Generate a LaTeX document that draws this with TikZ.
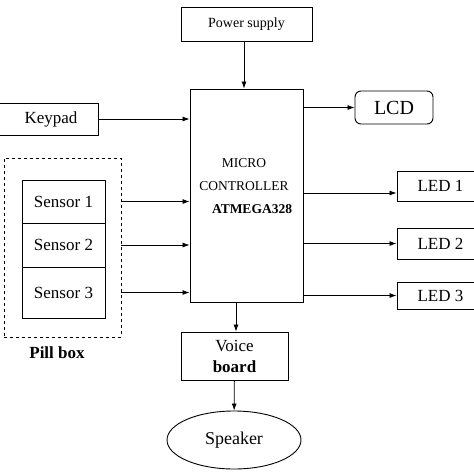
\documentclass[tikz,border=0pt]{standalone}
\usepackage{fontspec}
\setmainfont{Liberation Serif}
\usepackage{tikz}
\usetikzlibrary{arrows.meta, positioning, shapes.geometric}

\tikzset{
    block/.style={draw, line width=0.9pt, inner sep=0pt, font=\fontsize{17}{20}\selectfont},
    arr/.style={-{Latex[length=7pt,width=5pt]}, line width=0.8pt}
}

\begin{document}
\begin{tikzpicture}[x=1pt, y=-1pt]
    \useasboundingbox (0,0) rectangle (474,474);
    \node (power) [block, minimum width=131pt, minimum height=34pt, font=\fontsize{14}{16}\selectfont] at (246.5,24) {Power supply};
    \node (mc) [block, minimum width=113pt, minimum height=213pt] at (246.5,195.5) {};
    \node (mclabel) [align=center, font=\fontsize{13.5}{23}\selectfont] at (244,186)
        {MICRO\\CONTROLLER\\\hspace*{16pt}\textbf{ATMEGA328}};
    \node (keypad) [block, minimum width=100pt, minimum height=32pt] at (48,119) {\hspace*{6pt}Keypad};
    \node (lcd) [block, rounded corners=6pt, minimum width=78pt, minimum height=33pt, font=\fontsize{20}{22}\selectfont] at (394,107.5) {LCD};
    % pill box with the sensors
    \node (pill) [draw, dashed, line width=0.8pt, minimum width=117pt, minimum height=179pt] at (62.5,247.5) {};
    \node (s1) [block, minimum width=83pt, minimum height=43pt] at (63.5,201.5) {Sensor 1};
    \node (s2) [block, minimum width=83pt, minimum height=44pt] at (63.5,245) {Sensor 2};
    \node (s3) [block, minimum width=83pt, minimum height=51pt] at (63.5,292.5) {Sensor 3};
    \node (pilllabel) [font=\fontsize{17}{20}\selectfont\bfseries] at (57,353) {Pill box};
    % outputs
    \node (led1) [block, minimum width=87pt, minimum height=30pt] at (440.5,186) {LED 1};
    \node (led2) [block, minimum width=87pt, minimum height=31pt] at (440.5,243.5) {LED 2};
    \node (led3) [block, minimum width=87pt, minimum height=27pt] at (440.5,295.5) {LED 3};
    \node (voice) [block, minimum width=107pt, minimum height=48pt, align=center, font=\fontsize{17}{21}\selectfont] at (234.5,356) {Voice\\\textbf{board}};
    \node (speaker) [block, ellipse, minimum width=134pt, minimum height=58pt, font=\fontsize{18}{20}\selectfont] at (234,440) {Speaker};
    \coordinate (l1) at ([yshift=-7pt]led1.west);

    \draw[arr] (power.south -| mc.north) ++(-2.5,0) coordinate (p1) -- (p1 |- mc.north);
    \draw[arr] (keypad) -- (keypad -| mc.west);
    \draw[arr] (mc.east |- lcd) -- (lcd);
    \draw[arr] (s1 -| pill.east) -- (s1 -| mc.west);
    \draw[arr] (s2 -| pill.east) -- (s2 -| mc.west);
    \draw[arr] (s3 -| pill.east) -- (s3 -| mc.west);
    \draw[arr] (mc.east |- l1) -- (l1);
    \draw[arr] (mc.east |- led2) -- (led2);
    \draw[arr] (mc.east |- led3) -- (led3);
    \draw[arr] (mc.south -| voice) ++(1.5,0) coordinate (v1) -- (v1 |- voice.north);
    \draw[arr] (voice) -- (speaker);
\end{tikzpicture}
\end{document}
